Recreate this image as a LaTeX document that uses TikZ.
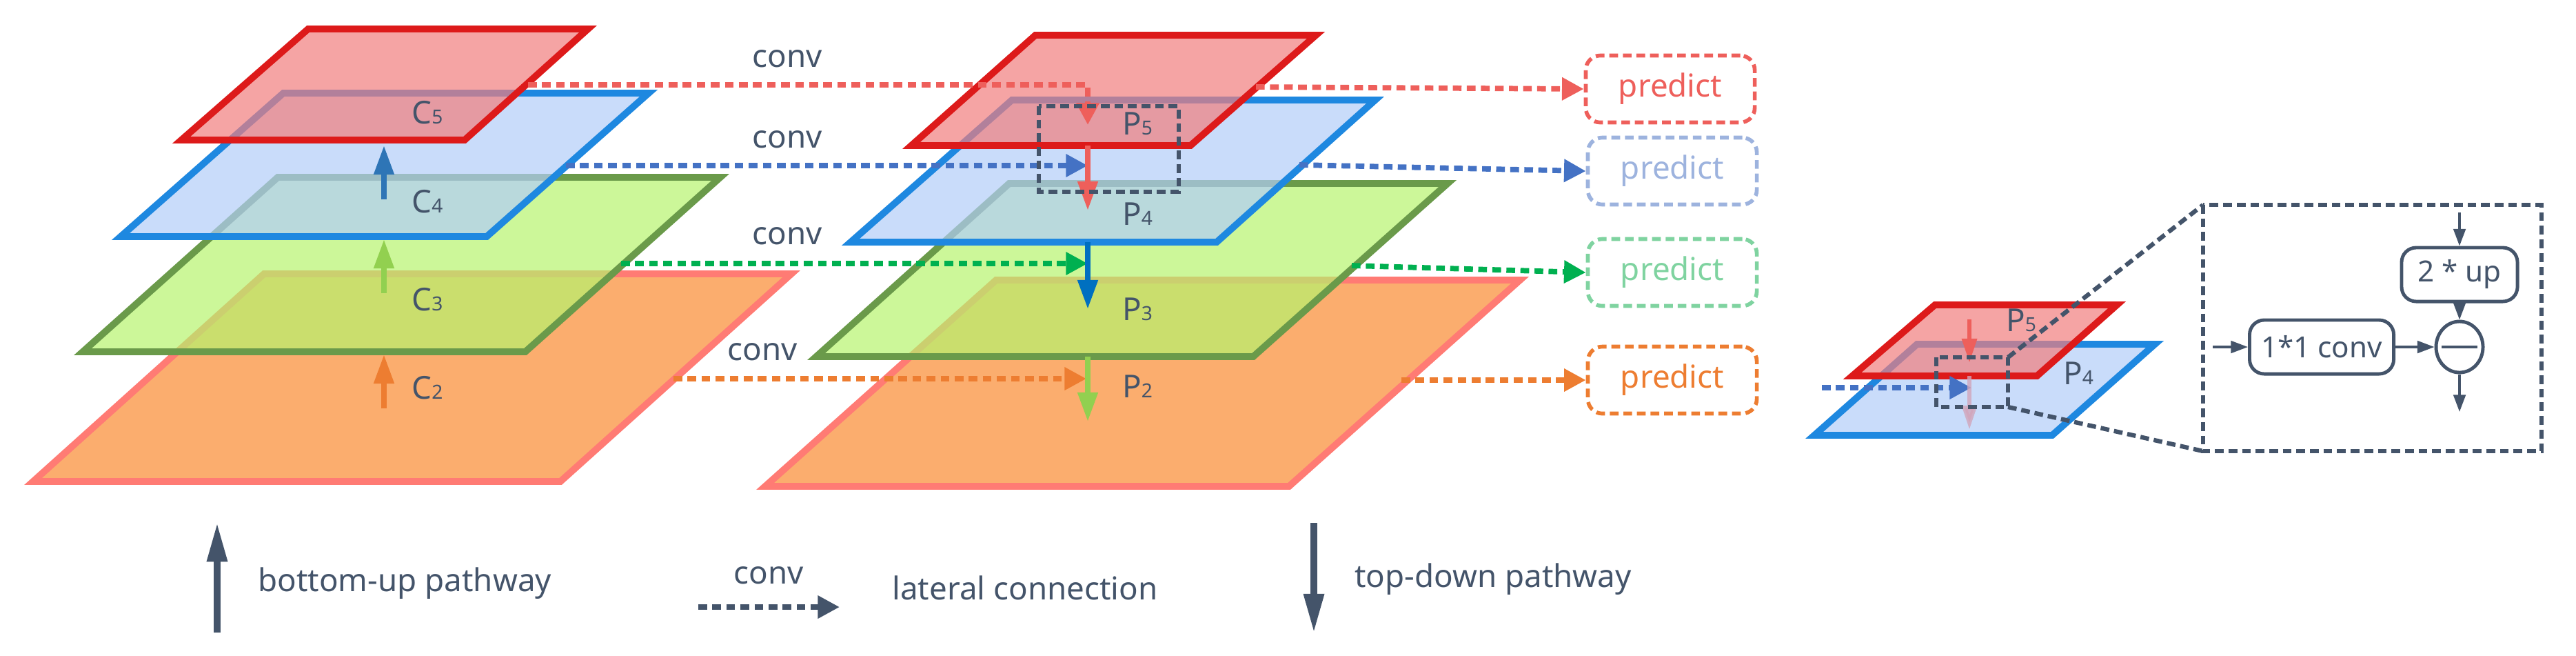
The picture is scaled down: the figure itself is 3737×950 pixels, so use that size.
\documentclass[tikz,border=0pt]{standalone}
\usepackage{fontspec}
\setmainfont{Noto Sans}
\usetikzlibrary{arrows.meta,shapes.geometric}
\definecolor{ink}{HTML}{44546A}
\definecolor{rF}{RGB}{241,126,126}\definecolor{rB}{HTML}{DD1A1A}
\definecolor{bF}{RGB}{178,205,248}\definecolor{bB}{HTML}{1E88E0}
\definecolor{gF}{RGB}{182,244,109}\definecolor{gB}{HTML}{6A9A4A}
\definecolor{oF}{RGB}{249,138,48}\definecolor{oB}{HTML}{FF7B74}
\definecolor{lr}{HTML}{EE5F5B}\definecolor{lb}{HTML}{4472C4}
\definecolor{lg}{HTML}{00B050}\definecolor{lo}{HTML}{ED7D31}
\definecolor{pb}{HTML}{9DB3DE}\definecolor{pg}{HTML}{7FD3A0}
\definecolor{ab}{HTML}{0070C0}\definecolor{ag}{HTML}{92D050}\definecolor{au}{HTML}{2E75B6}
\begin{document}
\begin{tikzpicture}[x=0.01cm,y=-0.01cm,
  layer/.style={line width=2.8pt,fill opacity=0.7,line join=miter},
  lat/.style={line width=2.2pt,dash pattern=on 3.6pt off 2.2pt,-{Triangle[length=9pt,width=9pt]}},
  vup/.style={line width=2.2pt,-{Triangle[length=12pt,width=8pt]}},
  pred/.style={draw,rounded corners=6pt,line width=1.6pt,dash pattern=on 3.6pt off 2pt,minimum width=2.45cm,minimum height=0.97cm,font=\fontsize{13}{15}\selectfont},
  lbl/.style={text=ink,font=\fontsize{13}{15}\selectfont},
  box/.style={draw=ink,line width=1.4pt,rounded corners=6pt,text=ink,font=\fontsize{12}{14}\selectfont},
  thin/.style={draw=ink,line width=0.9pt,-{Triangle[length=7pt,width=5pt]}}]
\useasboundingbox (0,0) rectangle (3737,950);
% ---- left stack
\draw[layer,draw=oB,fill=oF] (48,698)--(813,698)--(1148,397)--(383,397)--cycle;
\draw[layer,draw=gB,fill=gF] (120,510)--(762,510)--(1045,257)--(403,257)--cycle;
\draw[layer,draw=bB,fill=bF] (175,343)--(706,343)--(941,135)--(411,135)--cycle;
\draw[layer,draw=rB,fill=rF] (263,203)--(674,203)--(853,42)--(447,42)--cycle;
\coordinate (u1a) at (557,592);\coordinate (u1b) at (557,514);
\coordinate (u2a) at (557,425);\coordinate (u2b) at (557,347);
\coordinate (u3a) at (557,289);\coordinate (u3b) at (557,211);
\draw[vup,lo] (u1a)--(u1b);\draw[vup,ag] (u2a)--(u2b);\draw[vup,au] (u3a)--(u3b);
\node[lbl] (c2) at (620,562) {C{\footnotesize 2}};
\node[lbl] (c3) at (620,434) {C{\footnotesize 3}};
\node[lbl] (c4) at (620,292) {C{\footnotesize 4}};
\node[lbl] (c5) at (620,163) {C{\footnotesize 5}};
\node[lbl] (k1) at (1142,85) {conv};
\node[lbl] (k2) at (1142,202) {conv};
\node[lbl] (k3) at (1142,342) {conv};
\node[lbl] (k4) at (1106,510) {conv};
% ---- right stack
\draw[layer,draw=oB,fill=oF] (1110,705)--(1870,705)--(2205,406)--(1445,406)--cycle;
\draw[layer,draw=gB,fill=gF] (1184,517)--(1818,517)--(2100,266)--(1464,266)--cycle;
\draw[layer,draw=bB,fill=bF] (1234,351)--(1765,351)--(1995,145)--(1468,145)--cycle;
\draw[layer,draw=rB,fill=rF] (1322,211)--(1727,211)--(1909,51)--(1502,51)--cycle;
% lateral
\coordinate (lr0) at (766,123);\coordinate (lr1) at (1578,123);\coordinate (lr2) at (1578,181);
\coordinate (lb0) at (821,240);\coordinate (lb1) at (1578,240);
\coordinate (lg0) at (901,382);\coordinate (lg1) at (1578,382);
\coordinate (lo0) at (977,549);\coordinate (lo1) at (1576,549);
\draw[lat,lr] (lr0)--(lr1)--(lr2);
\draw[lat,lb] (lb0)--(lb1);
\draw[lat,lg] (lg0)--(lg1);
\draw[lat,lo] (lo0)--(lo1);
% top-down
\coordinate (d1a) at (1578,211);\coordinate (d1b) at (1578,305);
\coordinate (d2a) at (1578,351);\coordinate (d2b) at (1578,448);
\coordinate (d3a) at (1578,517);\coordinate (d3b) at (1578,611);
\draw[vup,lr] (d1a)--(d1b);\draw[vup,ab] (d2a)--(d2b);\draw[vup,ag] (d3a)--(d3b);
\node[lbl] (p5) at (1650,179) {P{\footnotesize 5}};
\node[lbl] (p4) at (1650,310) {P{\footnotesize 4}};
\node[lbl] (p3) at (1650,448) {P{\footnotesize 3}};
\node[lbl] (p2) at (1650,560) {P{\footnotesize 2}};
\draw[ink,line width=1.8pt,dash pattern=on 3.6pt off 2pt] (1507,154) rectangle (1710,278);
% predict
\node[pred,draw=lr,text=lr] (q1) at (2423,129) {predict};
\node[pred,draw=pb,text=pb] (q2) at (2426,248) {predict};
\node[pred,draw=pg,text=pg] (q3) at (2426,395) {predict};
\node[pred,draw=lo,text=lo] (q4) at (2426,551) {predict};
\coordinate (o1) at (1822,126);\coordinate (o2) at (1885,239);
\coordinate (o3) at (1961,385);\coordinate (o4) at (2033,551);
\draw[lat,lr] (o1)--(q1.west);
\draw[lat,lb] (o2)--(q2.west);
\draw[lat,lg] (o3)--(q3.west);
\draw[lat,lo] (o4)--(q4.west);
% ---- detail
\draw[layer,draw=bB,fill=bF] (2632,631)--(2977,631)--(3126,499)--(2781,499)--cycle;
\draw[layer,draw=rB,fill=rF] (2687,545)--(2955,545)--(3071,442)--(2807,442)--cycle;
\coordinate (s0) at (2643,562);\coordinate (s1) at (2860,562);
\draw[line width=2.2pt,lb,dash pattern=on 3.6pt off 2.2pt,-{Triangle[length=9pt,width=9pt]}] (s0)--(s1);
\coordinate (t0) at (2857,463);\coordinate (t1) at (2857,526);
\coordinate (t2) at (2857,545);\coordinate (t3) at (2857,623);
\draw[line width=1.8pt,lr,-{Triangle[length=10pt,width=6pt]}] (t0)--(t1);
\draw[line width=1.8pt,draw=rF!50!bF,opacity=0.8,-{Triangle[length=10pt,width=6pt]}] (t2)--(t3);
\node[lbl] (sp5) at (2932,464) {P{\footnotesize 5}};
\node[lbl] (sp4) at (3015,541) {P{\footnotesize 4}};
\coordinate (z1) at (2809,518);\coordinate (z2) at (2913,590);
\coordinate (z3) at (3196,297);\coordinate (z4) at (3687,654);
\draw[ink,line width=1.8pt,dash pattern=on 3.6pt off 2pt] (z1) rectangle (z2);
\draw[ink,line width=1.8pt,dash pattern=on 3.6pt off 2pt] (2913,518)--(3196,297);
\draw[ink,line width=1.8pt,dash pattern=on 3.6pt off 2pt] (z2)--(3196,654);
\draw[ink,line width=1.8pt,dash pattern=on 3.6pt off 2pt] (z3) rectangle (z4);
\node[box,minimum width=2.09cm,minimum height=0.78cm] (cv) at (3368,503) {1*1 conv};
\node[box,minimum width=1.68cm,minimum height=0.78cm] (up) at (3568,398) {2 * up};
\node[draw=ink,line width=1.4pt,ellipse,minimum width=0.68cm,minimum height=0.74cm,inner sep=0pt] (sum) at (3568,503) {};
\draw[ink,line width=1.2pt] ([xshift=-0.26cm]sum.center)--([xshift=0.26cm]sum.center);
\coordinate (in1) at (3210,503);\coordinate (in2) at (3568,308);\coordinate (out) at (3568,597);
\draw[thin] (in1)--(cv.west);
\draw[thin] (in2)--(up.north);
\draw[thin] (up.south)--(sum.north);
\draw[thin] (cv.east)--(sum.west);
\draw[thin] (sum.south)--(out);
% ---- legend
\coordinate (g1a) at (315,917);\coordinate (g1b) at (315,758);
\draw[ink,line width=2.6pt,-{Triangle[length=16pt,width=8pt]}] (g1a)--(g1b);
\node[lbl,anchor=west] (g1t) at (362,846) {bottom-up pathway};
\coordinate (g2a) at (1013,880);\coordinate (g2b) at (1218,880);
\draw[lat,ink] (g2a)--(g2b);
\node[lbl] (g2c) at (1115,834) {conv};
\node[lbl,anchor=west] (g2t) at (1282,852) {lateral connection};
\coordinate (g3a) at (1906,758);\coordinate (g3b) at (1906,917);
\draw[ink,line width=2.6pt,-{Triangle[length=16pt,width=8pt]}] (g3a)--(g3b);
\node[lbl,anchor=west] (g3t) at (1953,840) {top-down pathway};
\end{tikzpicture}
\end{document}
